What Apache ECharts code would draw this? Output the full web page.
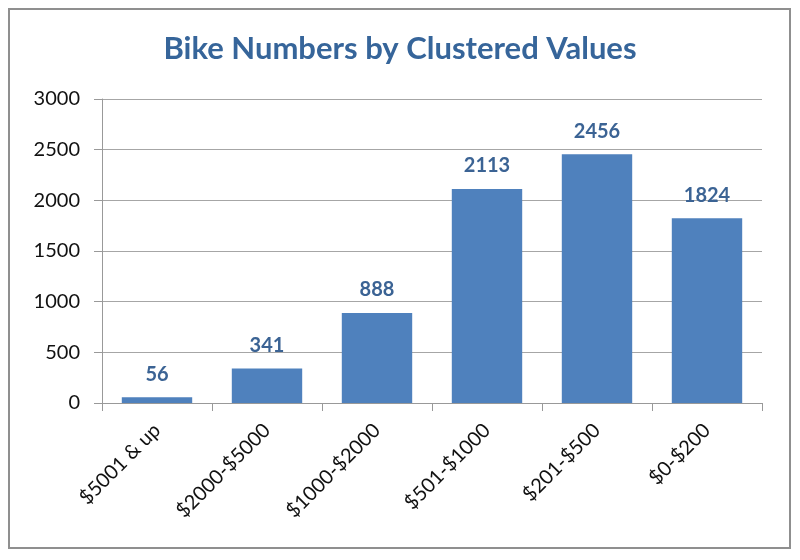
<!DOCTYPE html>
<html>
<head>
<meta charset="utf-8">
<script src="https://cdn.jsdelivr.net/npm/echarts@6/dist/echarts.min.js"></script>
<style>
html,body{margin:0;padding:0;background:#fff;}
#chart{width:800px;height:560px;}
</style>
</head>
<body>
<div id="chart"></div>
<script>
const categories = ["$5001 & up", "$2000-$5000", "$1000-$2000", "$501-$1000", "$201-$500", "$0-$200"];
const bikeNumbers = [56, 341, 888, 2113, 2456, 1824];
const yTicks = [0, 500, 1000, 1500, 2000, 2500, 3000];

const font = "Lato, 'Open Sans', sans-serif";
const chart = echarts.init(document.getElementById('chart'));
chart.setOption({
  backgroundColor: '#ffffff',
  animation: false,
  title: {
    text: 'Bike Numbers by Clustered Values',
    left: 'center',
    top: 28,
    textStyle: { fontFamily: font, fontSize: 31, fontWeight: 'bold', color: '#36659a' }
  },
  graphic: [{
    type: 'rect',
    shape: { x: 9, y: 9, width: 781, height: 539 },
    style: { fill: 'none', stroke: '#8f8f8f', lineWidth: 2 },
    silent: true
  }],
  grid: { left: 102, right: 38, top: 99, bottom: 157 },
  xAxis: {
    type: 'category',
    data: categories,
    axisLine: { lineStyle: { color: '#999999', width: 1 } },
    axisTick: { show: true, length: 8, alignWithLabel: false, lineStyle: { color: '#999999' } },
    axisLabel: { rotate: 45, fontFamily: font, fontSize: 20, color: '#111111', margin: 24, interval: 0 }
  },
  yAxis: {
    type: 'value',
    min: yTicks[0],
    max: yTicks[yTicks.length - 1],
    interval: 500,
    axisLine: { show: true, lineStyle: { color: '#999999', width: 1 } },
    axisTick: { show: true, length: 8, lineStyle: { color: '#999999' } },
    splitLine: { lineStyle: { color: '#a6a6a6', width: 1 } },
    axisLabel: { fontFamily: font, fontSize: 20, color: '#111111', margin: 22, formatter: v => String(v) }
  },
  series: [{
    type: 'bar',
    data: bikeNumbers,
    barCategoryGap: '36%',
    itemStyle: { color: '#4f81bd' },
    label: {
      show: true,
      position: 'top',
      distance: 13,
      fontFamily: font,
      fontSize: 20,
      fontWeight: 'bold',
      color: '#3b6394'
    }
  }]
});
</script>
</body>
</html>
